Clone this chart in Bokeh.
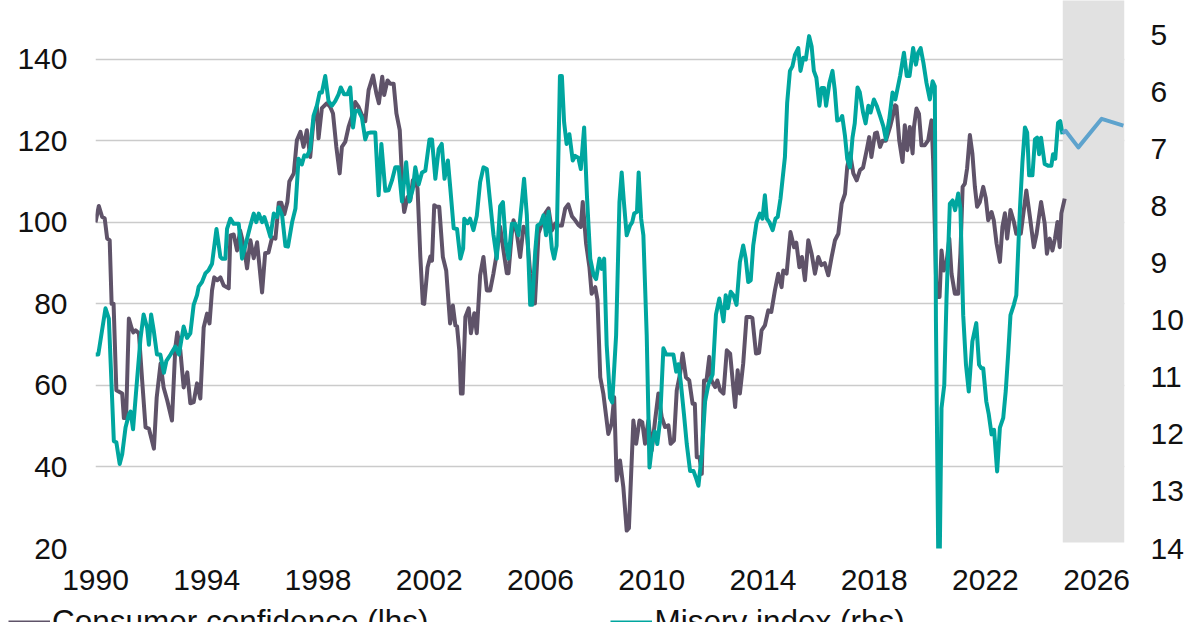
from bokeh.plotting import figure
from bokeh.layouts import column
from bokeh.models import Range1d, LinearAxis, FixedTicker, Legend, LegendItem
from bokeh.embed import file_html
from bokeh.resources import INLINE

# ---------------- data ----------------
cc_year = [1990.00, 1990.12, 1990.24, 1990.33, 1990.42, 1990.51, 1990.58, 1990.65, 1990.75, 1990.96,
           1991.02, 1991.10, 1991.20, 1991.30, 1991.36, 1991.44, 1991.56, 1991.68, 1991.80, 1991.92,
           1992.10, 1992.20, 1992.34, 1992.45, 1992.58, 1992.75, 1992.87, 1992.94, 1993.05, 1993.17,
           1993.30, 1993.41, 1993.53, 1993.65, 1993.77, 1993.89, 1994.01, 1994.10, 1994.19, 1994.27,
           1994.38, 1994.49, 1994.61, 1994.79, 1994.85, 1994.97, 1995.09, 1995.20, 1995.33, 1995.45,
           1995.57, 1995.69, 1995.81, 1995.99, 1996.10, 1996.22, 1996.35, 1996.47, 1996.59, 1996.68,
           1996.79, 1996.90, 1996.97, 1997.13, 1997.24, 1997.37, 1997.48, 1997.60, 1997.72, 1997.84,
           1997.96, 1998.02, 1998.14, 1998.32, 1998.44, 1998.54, 1998.66, 1998.78, 1998.86, 1998.98,
           1999.10, 1999.22, 1999.34, 1999.46, 1999.58, 1999.70, 1999.82, 1999.98, 2000.10, 2000.19,
           2000.31, 2000.38, 2000.50, 2000.60, 2000.72, 2000.82, 2000.94, 2001.06, 2001.10, 2001.22,
           2001.32, 2001.41, 2001.53, 2001.58, 2001.68, 2001.77, 2001.82, 2001.94, 2002.04, 2002.10,
           2002.18, 2002.27, 2002.36, 2002.49, 2002.61, 2002.69, 2002.75, 2002.85, 2002.94, 2003.00,
           2003.08, 2003.14, 2003.20, 2003.30, 2003.42, 2003.50, 2003.62, 2003.71, 2003.83, 2003.95,
           2004.07, 2004.19, 2004.31, 2004.43, 2004.55, 2004.67, 2004.79, 2004.85, 2004.97, 2005.03,
           2005.15, 2005.27, 2005.39, 2005.51, 2005.63, 2005.75, 2005.80, 2005.93, 2006.05, 2006.17,
           2006.29, 2006.41, 2006.53, 2006.65, 2006.77, 2006.89, 2007.00, 2007.13, 2007.25, 2007.37,
           2007.45, 2007.52, 2007.64, 2007.76, 2007.84, 2007.97, 2008.05, 2008.15, 2008.26, 2008.44,
           2008.56, 2008.65, 2008.74, 2008.86, 2008.98, 2009.10, 2009.18, 2009.34, 2009.44, 2009.56,
           2009.66, 2009.76, 2009.88, 2010.00, 2010.12, 2010.24, 2010.36, 2010.48, 2010.60, 2010.68,
           2010.80, 2010.90, 2011.02, 2011.11, 2011.23, 2011.35, 2011.47, 2011.55, 2011.62, 2011.72,
           2011.80, 2011.88, 2011.97, 2012.07, 2012.15, 2012.28, 2012.36, 2012.46, 2012.58, 2012.70,
           2012.82, 2012.91, 2013.00, 2013.09, 2013.17, 2013.29, 2013.41, 2013.53, 2013.62, 2013.75,
           2013.86, 2013.95, 2014.07, 2014.19, 2014.30, 2014.43, 2014.55, 2014.67, 2014.73, 2014.85,
           2014.99, 2015.12, 2015.20, 2015.31, 2015.40, 2015.51, 2015.63, 2015.75, 2015.87, 2015.99,
           2016.10, 2016.22, 2016.35, 2016.47, 2016.59, 2016.71, 2016.83, 2016.95, 2017.03, 2017.13,
           2017.25, 2017.37, 2017.49, 2017.60, 2017.73, 2017.82, 2017.90, 2018.03, 2018.10, 2018.21,
           2018.30, 2018.42, 2018.57, 2018.69, 2018.75, 2018.80, 2018.90, 2019.02, 2019.10, 2019.19,
           2019.28, 2019.38, 2019.43, 2019.52, 2019.61, 2019.70, 2019.82, 2019.94, 2020.06, 2020.12,
           2020.24, 2020.35, 2020.42, 2020.50, 2020.60, 2020.70, 2020.78, 2020.90, 2021.02, 2021.10,
           2021.18, 2021.26, 2021.34, 2021.44, 2021.53, 2021.62, 2021.70, 2021.80, 2021.92, 2022.01,
           2022.10, 2022.22, 2022.30, 2022.40, 2022.52, 2022.61, 2022.70, 2022.78, 2022.90, 2023.02,
           2023.11, 2023.27, 2023.47, 2023.60, 2023.74, 2023.84, 2024.00, 2024.13, 2024.21, 2024.31,
           2024.41, 2024.50, 2024.59, 2024.67, 2024.73, 2024.85]
cc_val = [100.0, 104.0, 101.3, 101.0, 96.0, 95.6, 80.0, 80.0, 58.8, 58.0,
          52.0, 52.0, 76.4, 74.0, 73.0, 73.5, 72.8, 61.0, 49.7, 49.4,
          44.5, 57.0, 65.4, 59.5, 56.3, 51.4, 69.3, 73.0, 68.6, 59.5,
          63.2, 55.6, 55.9, 60.5, 56.8, 74.2, 77.6, 75.2, 83.3, 86.5,
          85.8, 86.5, 84.5, 83.8, 96.8, 97.0, 93.1, 98.0, 94.4, 88.7,
          95.6, 91.2, 95.1, 82.8, 92.4, 92.6, 96.3, 96.0, 104.8, 104.8,
          102.0, 105.0, 110.0, 112.0, 120.1, 122.2, 118.5, 122.6, 116.0, 125.0,
          128.3, 120.6, 128.0, 129.2, 128.3, 126.7, 118.5, 112.0, 118.5, 119.7,
          123.4, 125.9, 129.5, 128.3, 126.3, 124.8, 132.4, 136.0, 131.6, 129.2,
          135.7, 131.2, 134.8, 134.0, 134.0, 126.7, 122.6, 105.4, 102.5, 106.2,
          105.4, 110.3, 109.6, 108.3, 91.6, 80.1, 80.0, 89.0, 91.6, 90.6,
          104.2, 103.8, 103.8, 91.5, 88.2, 80.8, 75.2, 79.6, 74.7, 74.5,
          68.6, 58.0, 58.0, 76.8, 78.9, 72.8, 77.7, 72.8, 87.0, 91.5,
          83.3, 83.3, 87.5, 92.4, 98.9, 93.1, 87.5, 87.5, 97.3, 100.5,
          97.3, 91.5, 98.9, 97.3, 87.5, 80.1, 80.1, 97.3, 99.7, 102.2,
          103.4, 98.0, 99.7, 99.2, 99.2, 103.4, 104.4, 101.5, 100.5, 99.3,
          98.9, 105.0, 94.8, 89.0, 82.5, 84.1, 80.9, 62.0, 58.0, 48.1,
          50.6, 57.1, 36.7, 41.6, 35.0, 24.4, 25.0, 51.4, 45.7, 51.4,
          51.0, 45.7, 51.4, 44.0, 51.4, 58.0, 52.2, 49.8, 50.2, 45.7,
          46.5, 58.8, 62.9, 67.8, 62.0, 61.2, 55.5, 55.5, 42.4, 42.4,
          38.3, 61.2, 61.2, 67.0, 61.2, 59.6, 61.2, 58.8, 58.0, 68.6,
          67.8, 61.2, 54.7, 63.7, 58.0, 65.4, 76.8, 76.8, 76.5, 67.8,
          68.0, 73.5, 74.7, 78.4, 78.0, 83.3, 87.4, 84.1, 88.2, 87.4,
          97.6, 93.9, 95.0, 89.0, 91.5, 85.8, 95.6, 92.3, 87.4, 91.5,
          89.5, 90.0, 87.0, 91.5, 95.6, 97.2, 104.6, 107.0, 113.6, 116.9,
          112.0, 110.3, 112.8, 113.4, 117.7, 120.9, 116.0, 121.8, 122.0, 118.5,
          120.0, 120.0, 123.4, 126.7, 128.7, 128.5, 120.1, 114.8, 123.8, 117.7,
          123.4, 116.9, 123.4, 127.9, 126.6, 118.9, 118.9, 120.1, 125.0, 115.2,
          81.7, 81.7, 93.1, 88.2, 90.0, 96.0, 87.4, 82.5, 82.5, 92.3,
          108.7, 109.5, 113.2, 121.4, 116.9, 108.7, 103.8, 105.0, 108.7, 106.0,
          100.5, 102.5, 100.5, 94.8, 90.3, 98.9, 102.2, 96.0, 103.0, 100.2,
          97.2, 97.2, 107.8, 101.3, 93.9, 97.2, 105.0, 99.7, 92.3, 96.0,
          93.1, 96.0, 100.1, 93.9, 102.2, 105.8]

mi_year = [1990.00, 1990.10, 1990.36, 1990.48, 1990.66, 1990.75, 1990.87, 1990.96, 1991.08, 1991.20,
           1991.26, 1991.35, 1991.50, 1991.62, 1991.73, 1991.86, 1991.92, 1992.00, 1992.10, 1992.21,
           1992.33, 1992.46, 1992.55, 1992.70, 1992.87, 1993.00, 1993.17, 1993.29, 1993.41, 1993.53,
           1993.65, 1993.71, 1993.83, 1993.95, 1994.07, 1994.19, 1994.35, 1994.49, 1994.55, 1994.67,
           1994.73, 1994.85, 1994.97, 1995.15, 1995.27, 1995.45, 1995.57, 1995.69, 1995.78, 1995.87,
           1995.99, 1996.07, 1996.17, 1996.29, 1996.41, 1996.53, 1996.59, 1996.71, 1996.83, 1996.92,
           1997.07, 1997.19, 1997.30, 1997.42, 1997.51, 1997.60, 1997.72, 1997.84, 1997.96, 1998.06,
           1998.14, 1998.26, 1998.38, 1998.50, 1998.62, 1998.74, 1998.82, 1998.94, 1999.06, 1999.16,
           1999.26, 1999.34, 1999.46, 1999.58, 1999.70, 1999.78, 1999.90, 2000.06, 2000.18, 2000.28,
           2000.42, 2000.54, 2000.66, 2000.78, 2000.90, 2001.02, 2001.17, 2001.29, 2001.41, 2001.50,
           2001.62, 2001.74, 2001.86, 2002.01, 2002.10, 2002.22, 2002.34, 2002.45, 2002.55, 2002.67,
           2002.76, 2002.88, 2003.00, 2003.12, 2003.22, 2003.26, 2003.38, 2003.47, 2003.59, 2003.71,
           2003.83, 2003.95, 2004.07, 2004.19, 2004.31, 2004.43, 2004.55, 2004.65, 2004.75, 2004.85,
           2004.97, 2005.09, 2005.21, 2005.33, 2005.41, 2005.51, 2005.63, 2005.70, 2005.81, 2005.89,
           2006.00, 2006.11, 2006.20, 2006.29, 2006.41, 2006.49, 2006.58, 2006.70, 2006.77, 2006.85,
           2006.94, 2007.04, 2007.16, 2007.25, 2007.36, 2007.45, 2007.57, 2007.67, 2007.79, 2007.91,
           2008.00, 2008.12, 2008.20, 2008.29, 2008.38, 2008.50, 2008.58, 2008.72, 2008.84, 2008.92,
           2009.00, 2009.10, 2009.22, 2009.30, 2009.37, 2009.47, 2009.53, 2009.62, 2009.70, 2009.82,
           2009.92, 2010.03, 2010.11, 2010.20, 2010.30, 2010.42, 2010.52, 2010.66, 2010.78, 2010.88,
           2010.96, 2011.04, 2011.16, 2011.26, 2011.38, 2011.50, 2011.59, 2011.68, 2011.80, 2011.92,
           2012.04, 2012.19, 2012.31, 2012.43, 2012.50, 2012.58, 2012.66, 2012.74, 2012.84, 2012.94,
           2013.05, 2013.17, 2013.29, 2013.38, 2013.47, 2013.56, 2013.65, 2013.77, 2013.89, 2013.98,
           2014.07, 2014.14, 2014.23, 2014.35, 2014.45, 2014.53, 2014.63, 2014.79, 2014.87, 2014.97,
           2015.06, 2015.15, 2015.27, 2015.35, 2015.45, 2015.54, 2015.66, 2015.75, 2015.83, 2015.92,
           2016.03, 2016.11, 2016.20, 2016.27, 2016.39, 2016.50, 2016.58, 2016.67, 2016.79, 2016.85,
           2016.95, 2017.03, 2017.13, 2017.22, 2017.30, 2017.40, 2017.48, 2017.60, 2017.69, 2017.79,
           2017.87, 2017.99, 2018.09, 2018.21, 2018.33, 2018.42, 2018.54, 2018.66, 2018.76, 2018.93,
           2019.07, 2019.17, 2019.27, 2019.40, 2019.50, 2019.58, 2019.67, 2019.77, 2019.88, 2020.00,
           2020.10, 2020.18, 2020.22, 2020.30, 2020.36, 2020.42, 2020.52, 2020.60, 2020.72, 2020.82,
           2020.91, 2021.02, 2021.10, 2021.20, 2021.30, 2021.40, 2021.53, 2021.67, 2021.77, 2021.85,
           2021.92, 2022.03, 2022.12, 2022.22, 2022.31, 2022.42, 2022.52, 2022.64, 2022.73, 2022.82,
           2022.90, 2023.02, 2023.11, 2023.24, 2023.33, 2023.42, 2023.50, 2023.57, 2023.69, 2023.78,
           2023.86, 2023.93, 2024.00, 2024.13, 2024.25, 2024.37, 2024.43, 2024.51, 2024.61, 2024.69,
           2024.77]
mi_val = [10.60, 10.60, 9.79, 9.97, 12.12, 12.14, 12.52, 12.35, 11.88, 11.65,
          11.60, 11.91, 11.01, 10.31, 9.90, 10.14, 10.43, 9.90, 10.20, 10.60,
          10.60, 10.92, 10.71, 10.60, 10.46, 10.60, 10.11, 10.31, 10.23, 9.73,
          9.56, 9.41, 9.33, 9.18, 9.12, 9.01, 8.40, 8.89, 8.92, 8.92,
          8.40, 8.22, 8.31, 8.31, 8.92, 8.57, 8.34, 8.13, 8.28, 8.13,
          8.28, 8.19, 8.34, 8.54, 8.13, 8.19, 8.02, 8.16, 8.70, 8.71,
          8.28, 8.04, 7.17, 7.27, 7.11, 7.13, 7.00, 6.42, 6.24, 6.01,
          6.01, 5.72, 6.16, 6.24, 6.16, 6.04, 5.92, 6.04, 6.04, 5.92,
          6.62, 6.33, 6.33, 6.45, 6.83, 6.72, 6.71, 6.71, 7.81, 6.91,
          7.73, 7.72, 7.55, 7.32, 7.32, 7.92, 7.23, 7.92, 7.70, 7.32,
          7.62, 7.41, 7.38, 6.83, 6.83, 7.52, 7.00, 6.91, 7.52, 7.20,
          7.70, 8.39, 8.40, 8.92, 8.74, 8.22, 8.30, 8.22, 8.42, 8.17,
          7.58, 7.32, 7.35, 7.93, 8.50, 8.92, 8.00, 7.93, 8.63, 8.92,
          8.31, 8.31, 8.51, 7.93, 7.52, 8.16, 9.73, 9.73, 8.80, 8.34,
          8.31, 8.16, 8.51, 8.10, 8.74, 8.92, 8.69, 5.72, 5.72, 6.53,
          6.91, 6.74, 7.20, 7.12, 7.15, 7.35, 6.62, 7.81, 8.92, 9.21,
          9.28, 8.92, 9.10, 8.92, 10.43, 11.36, 11.44, 10.26, 7.93, 7.41,
          7.93, 8.51, 8.34, 8.28, 8.13, 8.10, 7.41, 8.22, 8.51, 10.26,
          12.58, 12.12, 11.95, 12.17, 11.76, 10.49, 10.60, 10.60, 10.60, 10.90,
          10.77, 11.07, 11.65, 12.17, 12.64, 12.64, 12.76, 12.90, 12.35, 11.42,
          11.12, 10.95, 9.90, 9.62, 9.79, 10.02, 9.56, 9.79, 9.50, 9.56,
          9.73, 8.98, 8.69, 8.92, 9.33, 9.30, 8.69, 8.28, 8.13, 8.22,
          7.81, 8.22, 8.28, 8.42, 8.22, 8.19, 7.87, 7.14, 6.19, 5.63,
          5.55, 5.35, 5.23, 5.63, 5.40, 5.43, 5.02, 5.20, 5.63, 5.75,
          6.24, 5.93, 5.93, 6.24, 5.84, 5.63, 5.95, 6.50, 6.48, 6.42,
          6.77, 7.17, 7.32, 6.80, 6.55, 5.92, 6.00, 6.36, 6.55, 6.24,
          6.36, 6.13, 6.24, 6.42, 6.60, 6.83, 6.48, 6.01, 6.13, 5.72,
          5.31, 5.72, 5.72, 5.23, 5.52, 5.31, 5.23, 5.49, 5.84, 6.13,
          5.81, 5.90, 10.02, 14.00, 14.00, 11.54, 11.13, 9.62, 7.96, 7.90,
          8.07, 7.78, 8.04, 9.91, 10.78, 11.25, 10.37, 10.05, 10.78, 10.84,
          10.84, 11.42, 11.65, 12.00, 11.92, 12.65, 11.88, 11.71, 11.24, 10.57,
          9.91, 9.73, 9.56, 8.05, 7.23, 6.62, 6.71, 7.46, 7.46, 6.83,
          6.80, 7.09, 6.80, 7.26, 7.29, 7.29, 7.09, 7.17, 6.54, 6.51,
          6.74]

fc_year = [2024.77, 2024.88, 2025.34, 2026.18, 2026.96]
fc_val = [6.72, 6.68, 6.97, 6.47, 6.59]

shade_start, shade_end = 2024.78, 2027.0
x_ticks = [1990, 1994, 1998, 2002, 2006, 2010, 2014, 2018, 2022, 2026]
left_ticks = [20, 40, 60, 80, 100, 120, 140]
right_ticks = [5, 6, 7, 8, 9, 10, 11, 12, 13, 14]
series_names = ["Consumer confidence (lhs)", "Misery index (rhs)"]

# ---------------- styling ----------------
PURPLE = "#5f5369"
TEAL = "#00a69f"
BLUE = "#5ea3cd"
FONT = "Liberation Sans"
FS = "30px"
TXT = "#111111"
W = 1192

p = figure(width=W, height=603, output_backend="svg", toolbar_location=None,
           x_range=Range1d(1990, 2027), y_range=Range1d(20, 154.4),
           min_border_left=95, min_border_right=68, min_border_top=0, min_border_bottom=55)
p.extra_y_ranges = {"rhs": Range1d(14, 4.396)}
p.outline_line_color = None
p.background_fill_color = "white"
p.border_fill_color = "white"
p.frame_align = False

p.xgrid.visible = False
p.ygrid.grid_line_color = "#cbcbcb"
p.ygrid.grid_line_width = 1.6
p.ygrid.ticker = FixedTicker(ticks=left_ticks)

# shaded forecast area
p.quad(left=[shade_start], right=[shade_end], bottom=[21.5], top=[200],
       fill_color="#e1e1e1", line_color=None)

p.line(cc_year, cc_val, line_color=PURPLE, line_width=4, line_join="round")
p.line(mi_year, mi_val, line_color=TEAL, line_width=4, line_join="round", y_range_name="rhs")
p.line(fc_year, fc_val, line_color=BLUE, line_width=4, line_join="round", y_range_name="rhs")

def style_axis(ax):
    ax.axis_line_color = None
    ax.major_tick_line_color = None
    ax.minor_tick_line_color = None
    ax.major_tick_out = 0
    ax.major_tick_in = 0
    ax.major_label_text_font = FONT
    ax.major_label_text_font_size = FS
    ax.major_label_text_color = TXT

xa = p.xaxis[0]
xa.ticker = FixedTicker(ticks=x_ticks)
xa.major_label_overrides = {t: str(t) for t in x_ticks}
style_axis(xa)
xa.major_label_standoff = 21

ya = p.yaxis[0]
ya.ticker = FixedTicker(ticks=left_ticks)
style_axis(ya)
ya.major_label_standoff = 28

ra = LinearAxis(y_range_name="rhs", ticker=FixedTicker(ticks=right_ticks))
style_axis(ra)
ra.major_label_standoff = 26
p.add_layout(ra, "right")

# ---------------- legend strip (second figure) ----------------
q = figure(width=W, height=19, output_backend="svg", toolbar_location=None,
           x_range=Range1d(0, 1), y_range=Range1d(0, 1),
           x_axis_location=None, y_axis_location=None,
           min_border_left=0, min_border_right=0, min_border_top=0, min_border_bottom=0)
q.outline_line_color = None
q.grid.visible = False
q.border_fill_color = "white"
q.background_fill_color = "white"
q.frame_align = False
# legend key renderers (kept outside the visible range of the strip)
lr_cc = q.line([-5, -4], [-5, -5], line_color=PURPLE, line_width=4)
lr_mi = q.line([-5, -4], [-5, -5], line_color=TEAL, line_width=4)
legend = Legend(items=[LegendItem(label=series_names[0], renderers=[lr_cc]),
                       LegendItem(label=series_names[1], renderers=[lr_mi])],
                orientation="horizontal", location=(8, -18),
                border_line_color=None, background_fill_alpha=0,
                padding=0, margin=0, spacing=182,
                glyph_width=42, glyph_height=20, label_standoff=2,
                label_text_align="left",
                label_text_font=FONT, label_text_font_size="31.5px", label_text_color=TXT)
q.add_layout(legend, "center")

page = column(p, q, spacing=0)
open("out.html", "w").write(file_html(page, INLINE))
